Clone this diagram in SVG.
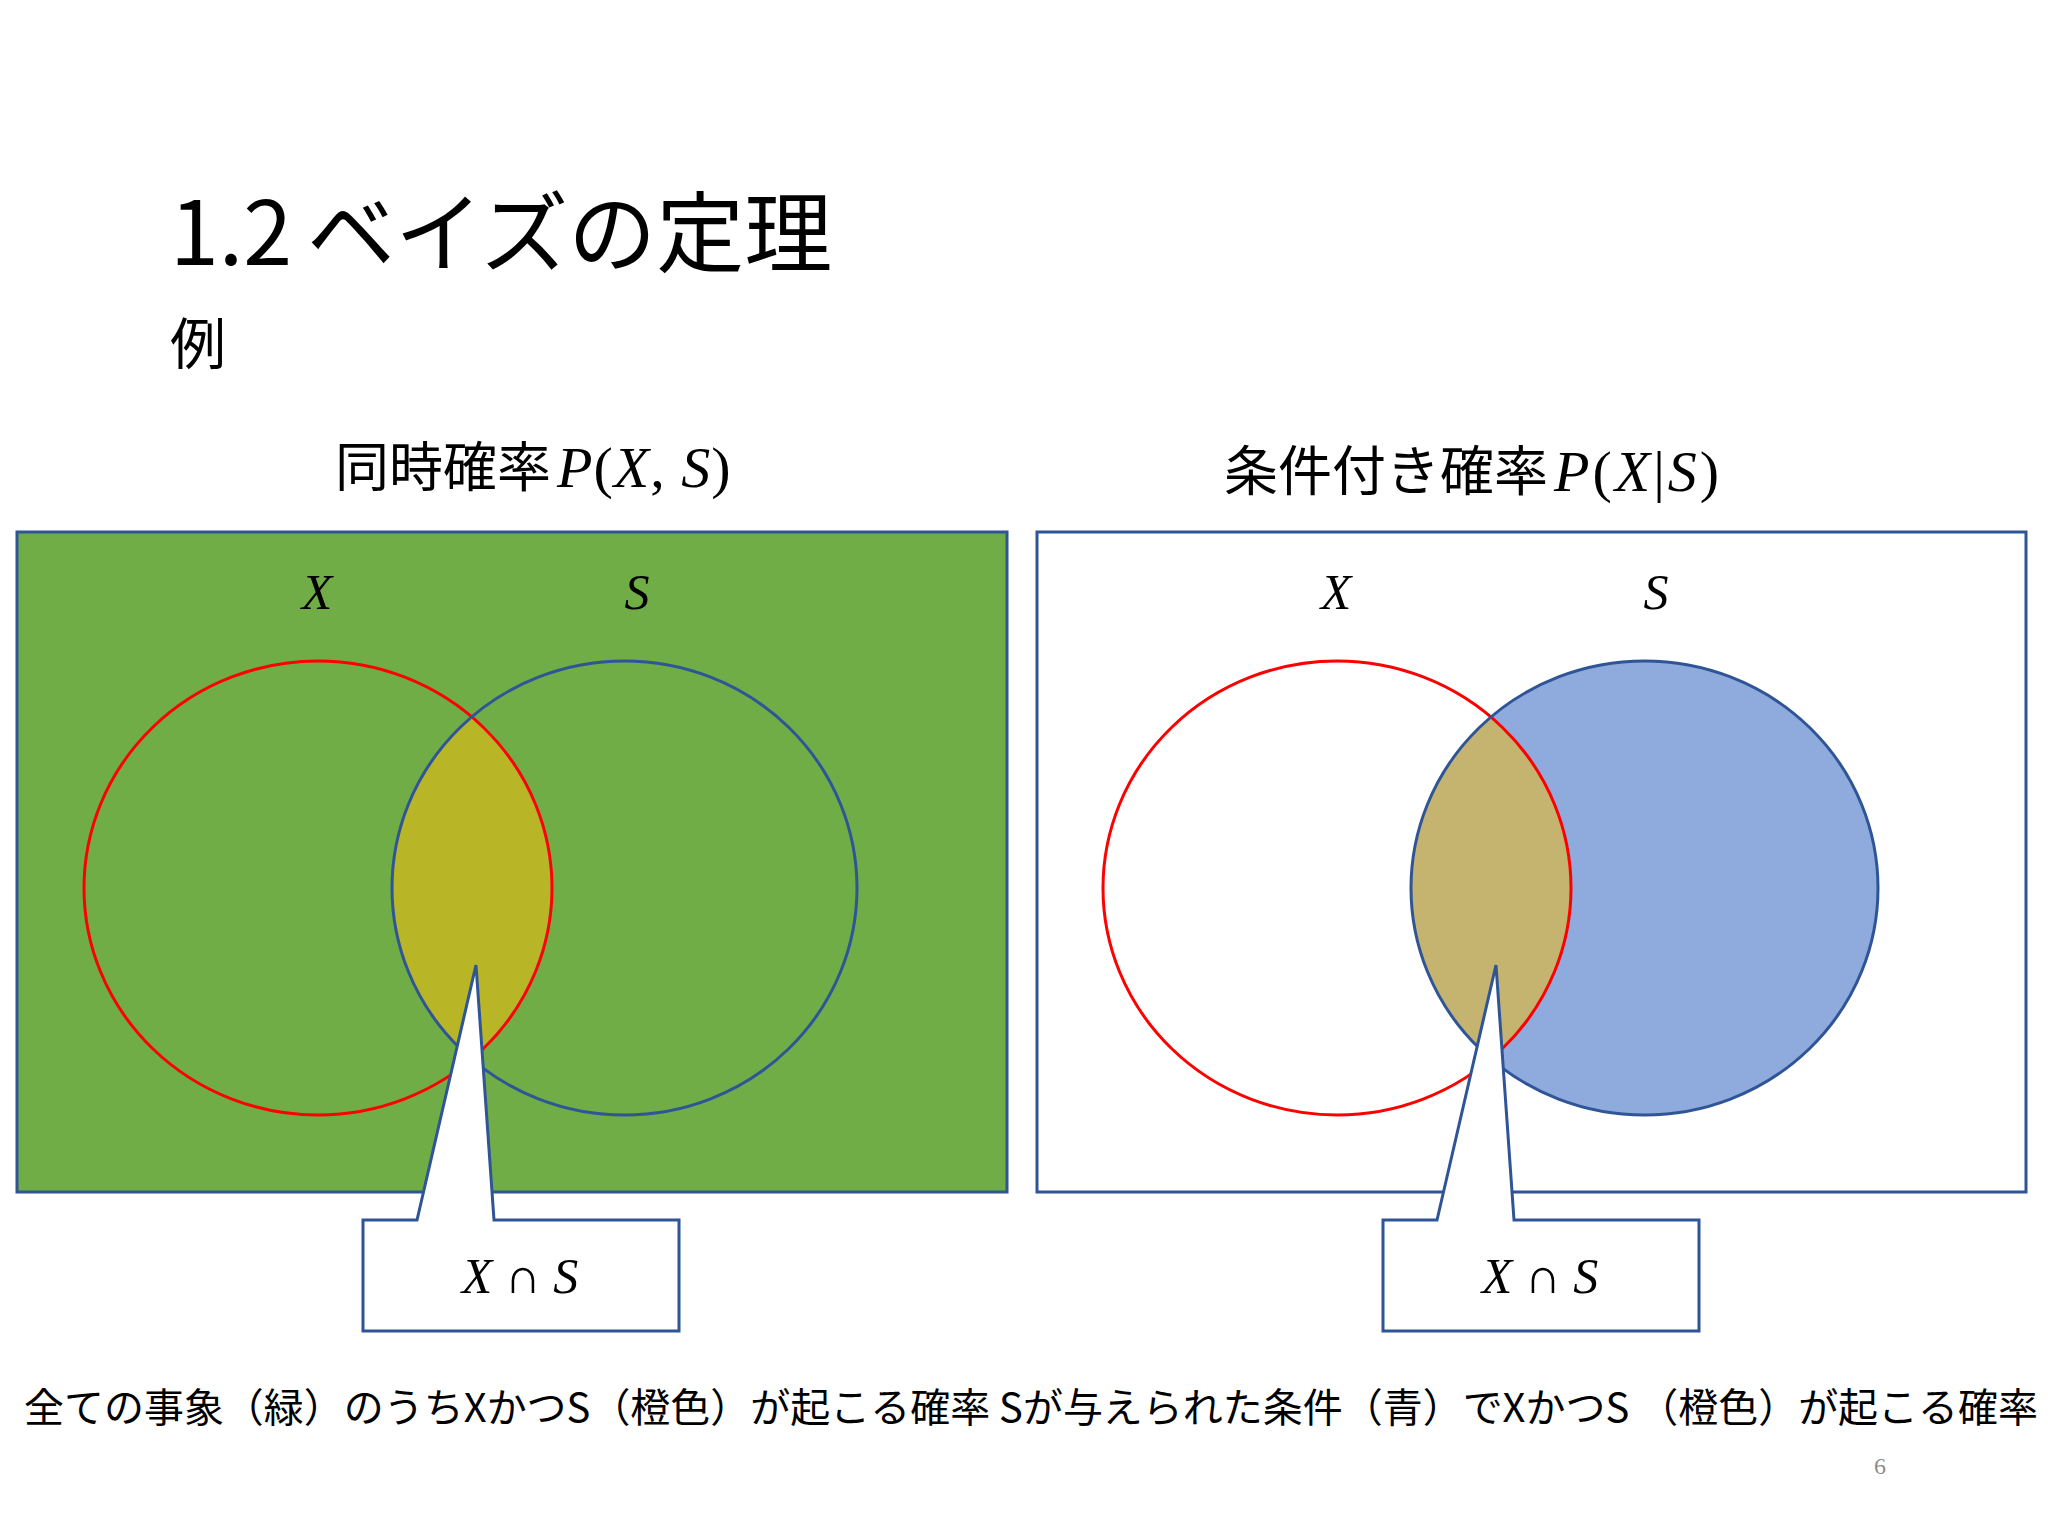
<svg xmlns="http://www.w3.org/2000/svg" width="2048" height="1536" viewBox="0 0 2048 1536">
<defs>
<style>
.jp{font-family:"Noto Sans CJK JP","Noto Sans",sans-serif;fill:#000}
.m{font-family:"Liberation Serif","DejaVu Serif",serif;fill:#000}
.i{font-style:italic}
.frame{stroke:#2F5597;stroke-width:3}
.cx{fill:none;stroke:#FF0000;stroke-width:3}
.cs{fill:none;stroke:#2F5597;stroke-width:3}
.call{fill:#FFFFFF;stroke:#2F5597;stroke-width:3;stroke-linejoin:miter}
</style>
<clipPath id="clipXL"><ellipse cx="318" cy="888" rx="234" ry="227"/></clipPath>
<clipPath id="clipXR"><ellipse cx="1337" cy="888" rx="234" ry="227"/></clipPath>
</defs>
<rect x="0" y="0" width="2048" height="1536" fill="#FFFFFF"/>

<g id="title">
<text class="jp" x="170" y="265" font-size="88">1.2 <tspan x="307">ベイズの定理</tspan></text>
<text class="jp" x="170" y="364" font-size="56">例</text>
</g>

<g id="heading-left">
<text x="335" y="487" font-size="54"><tspan class="jp">同時確率</tspan><tspan class="m" x="557" font-size="58" letter-spacing="1"><tspan class="i">P</tspan>(<tspan class="i">X</tspan>, <tspan class="i">S</tspan>)</tspan></text>
</g>
<g id="heading-right">
<text x="1224" y="491" font-size="54"><tspan class="jp">条件付き確率</tspan><tspan class="m" x="1554" font-size="58" letter-spacing="3"><tspan class="i">P</tspan>(<tspan class="i">X</tspan>|<tspan class="i">S</tspan>)</tspan></text>
</g>

<g id="panel-left">
<rect class="frame" x="17" y="532" width="990" height="660" fill="#70AD47"/>
<ellipse cx="624.5" cy="888" rx="232.5" ry="227" fill="#B8B526" clip-path="url(#clipXL)"/>
<ellipse class="cx" cx="318" cy="888" rx="234" ry="227"/>
<ellipse class="cs" cx="624.5" cy="888" rx="232.5" ry="227"/>
<text class="m i" x="317" y="609" font-size="50" text-anchor="middle">X</text>
<text class="m i" x="637" y="609" font-size="50" text-anchor="middle">S</text>
</g>

<g id="panel-right">
<rect class="frame" x="1037" y="532" width="989" height="660" fill="#FFFFFF"/>
<ellipse cx="1644.5" cy="888" rx="233.5" ry="227" fill="#8FAADC"/>
<ellipse cx="1644.5" cy="888" rx="233.5" ry="227" fill="#C5B46F" clip-path="url(#clipXR)"/>
<ellipse class="cx" cx="1337" cy="888" rx="234" ry="227"/>
<ellipse class="cs" cx="1644.5" cy="888" rx="233.5" ry="227"/>
<text class="m i" x="1336" y="609" font-size="50" text-anchor="middle">X</text>
<text class="m i" x="1656" y="609" font-size="50" text-anchor="middle">S</text>
</g>

<g id="connectors">
<path class="call" d="M363,1220 L417,1220 L476,965 L494,1220 L679,1220 L679,1331 L363,1331 Z"/>
<path class="call" d="M1383,1220 L1437,1220 L1496,965 L1514,1220 L1699,1220 L1699,1331 L1383,1331 Z"/>
</g>

<g id="callout-left">
<text class="m" x="520" y="1293" font-size="50" text-anchor="middle"><tspan class="i">X</tspan> ∩ <tspan class="i">S</tspan></text>
</g>
<g id="callout-right">
<text class="m" x="1540" y="1293" font-size="50" text-anchor="middle"><tspan class="i">X</tspan> ∩ <tspan class="i">S</tspan></text>
</g>

<g id="caption">
<text class="jp" x="24" y="1422" font-size="40" textLength="2014" lengthAdjust="spacingAndGlyphs">全ての事象（緑）のうちXかつS（橙色）が起こる確率 Sが与えられた条件（青）でXかつS （橙色）が起こる確率</text>
</g>
<text x="1880" y="1474" font-family="Liberation Serif, serif" font-size="24" fill="#8C8C8C" text-anchor="middle">6</text>
</svg>
